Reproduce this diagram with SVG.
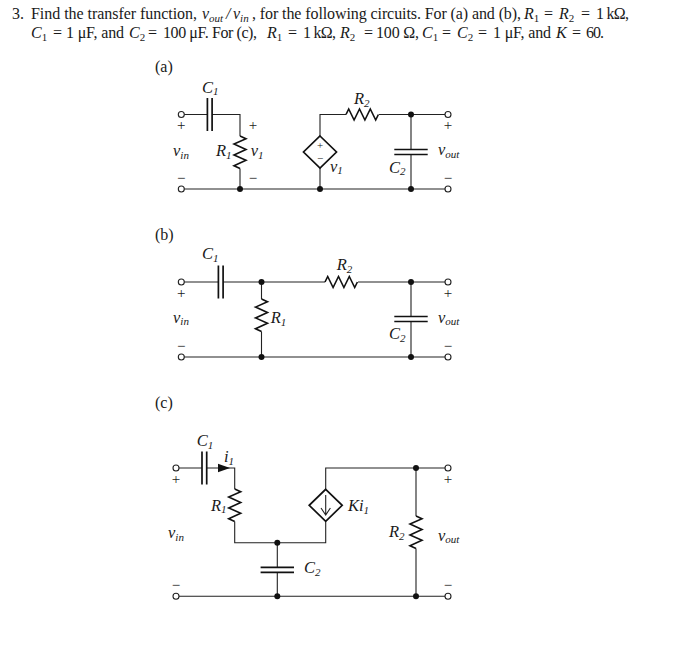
<svg xmlns="http://www.w3.org/2000/svg" width="682" height="653" viewBox="0 0 682 653">
<style>
text{font-family:"Liberation Serif","Times New Roman",serif;fill:#1a1a1a}
.t{font-size:16px}
.i{font-style:italic}
.s{font-size:11px}
.n{font-size:11px;font-style:normal}
.l{font-size:16.5px;font-style:italic}
.ls{font-size:11px;font-style:italic}
.g{font-size:15px;text-anchor:middle}
.h{font-size:11px;text-anchor:middle}
.w{fill:none;stroke:#222;stroke-width:1.1}
.p{fill:none;stroke:#111;stroke-width:1.7}
.z{fill:none;stroke:#111;stroke-width:1.6;stroke-linejoin:miter}
.d{fill:#fff;stroke:#111;stroke-width:1.7}
.o{fill:#fff;stroke:#222;stroke-width:1.1}
.j{fill:#111}
</style>
<defs>
<path id="rv" class="z" d="M0 0l6 2.7-12 5.4 12 5.4-12 5.4 12 5.4-12 5.4 6 2.7"/>
<path id="rh" class="z" d="M0 0l2.7-5.5 5.4 11 5.4-11 5.4 11 5.4-11 5.4 11 2.7-5.5"/>
<path id="capv" class="p" d="M0-16.5v33M4.7-16.5v33"/>
<path id="caph" class="p" d="M-16.7 0h33.4M-16.7 5h33.4"/>
<path id="dia" class="d" d="M0-16L16.5 0 0 16-16.5 0Z"/>
<circle id="term" class="o" r="3"/>
<circle id="dot" class="j" r="3"/>
</defs>
<g id="problem-text">
<text class="t" x="12" y="19">3.</text>
<text class="t" x="31" y="19" textLength="166">Find the transfer function,</text>
<text class="t i" x="202" y="19">v<tspan class="s" dy="2.5">out</tspan></text>
<text class="t i" x="226" y="19">/</text>
<text class="t i" x="233" y="19">v<tspan class="s" dy="2.5">in</tspan></text>
<text class="t" x="252" y="19" textLength="269">, for the following circuits. For (a) and (b),</text>
<text class="t i" x="524" y="19">R<tspan class="n" dy="2.5">1</tspan></text>
<text class="t" x="544" y="19">=</text>
<text class="t i" x="559" y="19">R<tspan class="n" dy="2.5">2</tspan></text>
<text class="t" x="581" y="19">=</text>
<text class="t" x="596" y="19" textLength="33">1 kΩ,</text>
<text class="t i" x="31" y="38">C<tspan class="n" dy="2.5">1</tspan></text>
<text class="t" x="53" y="38">=</text>
<text class="t" x="66" y="38" textLength="58">1 μF, and</text>
<text class="t i" x="129" y="38">C<tspan class="n" dy="2.5">2</tspan></text>
<text class="t" x="148" y="38">=</text>
<text class="t" x="163" y="38" textLength="94">100 μF. For (c),</text>
<text class="t i" x="267" y="38">R<tspan class="n" dy="2.5">1</tspan></text>
<text class="t" x="288" y="38">=</text>
<text class="t" x="303" y="38" textLength="33">1 kΩ,</text>
<text class="t i" x="340" y="38">R<tspan class="n" dy="2.5">2</tspan></text>
<text class="t" x="364" y="38">=</text>
<text class="t" x="376" y="38" textLength="43">100 Ω,</text>
<text class="t i" x="422" y="38">C<tspan class="n" dy="2.5">1</tspan></text>
<text class="t" x="442" y="38">=</text>
<text class="t i" x="457" y="38">C<tspan class="n" dy="2.5">2</tspan></text>
<text class="t" x="478" y="38">=</text>
<text class="t" x="493" y="38" textLength="58">1 μF, and</text>
<text class="t i" x="556" y="38">K</text>
<text class="t" x="572" y="38">=</text>
<text class="t" x="586" y="38" textLength="18">60.</text>
<text class="t" x="155" y="72">(a)</text>
<text class="t" x="155" y="240">(b)</text>
<text class="t" x="155" y="408">(c)</text>
</g>
<g id="connectors">
<path class="w" d="M184 114.500H207.500M212 114.500H240V136M240 168.500V189M184 189H320M320 168V189M320 136V114.500H346M379 114.500H445M411 114.500V149.500M411 154.500V189M320 189H445"/>
<path class="w" d="M184 282H218.500M223 282H325M358 282H445M261.500 282V299M261.500 331.500V357M184 357H445M411 282V316.500M411 321.500V357"/>
<path class="w" d="M179 468H202M206.700 468H234.700V489M234.700 521.500V542.700H325.700V521.500M325.700 489.500V468H445M416 468V516M416 548.500V596M179 596.300H445M277.300 542.700V567.300M277.300 572.300V596.300"/>
</g>
<g id="circuit-a">
<g id="a-vin-plus"><use href="#term" x="181.300" y="114.500"/><text class="g" x="181.300" y="130">+</text></g>
<g id="a-vin-minus"><use href="#term" x="181.300" y="189"/><text class="g" x="181.300" y="183">−</text></g>
<text class="l" x="173" y="156">v<tspan class="ls" dy="2.500">in</tspan></text>
<g id="a-C1"><use href="#capv" x="207.400" y="114.500"/><text class="l" x="202" y="92.700">C<tspan class="ls" dy="2.500">1</tspan></text></g>
<g id="a-R1"><use href="#rv" x="240" y="136"/><text class="l" x="216" y="156">R<tspan class="ls" dy="2.500">1</tspan></text></g>
<g id="a-v1"><text class="g" x="253" y="130">+</text><text class="l" x="250.700" y="156">v<tspan class="ls" dy="2.500">1</tspan></text><text class="g" x="253" y="183">−</text></g>
<g id="a-dep"><use href="#dia" x="320" y="152"/><text class="h" x="320" y="149">+</text><text class="h" x="320" y="162">−</text><text class="l" x="330" y="171.700">v<tspan class="ls" dy="2.500">1</tspan></text></g>
<g id="a-R2"><use href="#rh" x="346" y="114.500"/><text class="l" x="354" y="104">R<tspan class="ls" dy="2.500">2</tspan></text></g>
<g id="a-C2"><use href="#caph" x="411" y="149.500"/><text class="l" x="389" y="172.700">C<tspan class="ls" dy="2.500">2</tspan></text></g>
<g id="a-nodes"><use href="#dot" x="240" y="189"/><use href="#dot" x="320" y="189"/><use href="#dot" x="411" y="189"/><use href="#dot" x="411" y="114.500"/></g>
<g id="a-vout-plus"><use href="#term" x="448" y="114.500"/><text class="g" x="448" y="130">+</text></g>
<g id="a-vout-minus"><use href="#term" x="448" y="189"/><text class="g" x="448" y="183">−</text></g>
<text class="l" x="438" y="155">v<tspan class="ls" dy="2.500">out</tspan></text>
</g>
<g id="circuit-b">
<g id="b-vin-plus"><use href="#term" x="181.300" y="282"/><text class="g" x="181.300" y="298">+</text></g>
<g id="b-vin-minus"><use href="#term" x="181.300" y="357"/><text class="g" x="181.300" y="351">−</text></g>
<text class="l" x="173" y="322.700">v<tspan class="ls" dy="2.500">in</tspan></text>
<g id="b-C1"><use href="#capv" x="218.400" y="282"/><text class="l" x="202" y="259">C<tspan class="ls" dy="2.500">1</tspan></text></g>
<g id="b-R1"><use href="#rv" x="261.500" y="299"/><text class="l" x="270.700" y="323">R<tspan class="ls" dy="2.500">1</tspan></text></g>
<g id="b-R2"><use href="#rh" x="325" y="282"/><text class="l" x="336.700" y="270">R<tspan class="ls" dy="2.500">2</tspan></text></g>
<g id="b-C2"><use href="#caph" x="411" y="316.500"/><text class="l" x="389" y="339">C<tspan class="ls" dy="2.500">2</tspan></text></g>
<g id="b-nodes"><use href="#dot" x="261.500" y="282"/><use href="#dot" x="261.500" y="357"/><use href="#dot" x="411" y="282"/><use href="#dot" x="411" y="357"/></g>
<g id="b-vout-plus"><use href="#term" x="448" y="282"/><text class="g" x="448" y="298">+</text></g>
<g id="b-vout-minus"><use href="#term" x="448" y="357"/><text class="g" x="448" y="351">−</text></g>
<text class="l" x="438" y="322.700">v<tspan class="ls" dy="2.500">out</tspan></text>
</g>
<g id="circuit-c">
<g id="c-vin-plus"><use href="#term" x="176" y="468"/><text class="g" x="176" y="484">+</text></g>
<g id="c-vin-minus"><use href="#term" x="176" y="596.300"/><text class="g" x="176" y="590">−</text></g>
<text class="l" x="168" y="538.300">v<tspan class="ls" dy="2.500">in</tspan></text>
<g id="c-C1"><use href="#capv" x="202" y="468"/><text class="l" x="196.700" y="446">C<tspan class="ls" dy="2.500">1</tspan></text></g>
<g id="c-i1"><path class="j" d="M218 463.700L230 468 218 472.300Z"/><text class="l" x="224" y="462">i<tspan class="ls" dy="2.500">1</tspan></text></g>
<g id="c-R1"><use href="#rv" x="234.700" y="489"/><text class="l" x="211" y="510.700">R<tspan class="ls" dy="2.500">1</tspan></text></g>
<g id="c-C2"><use href="#caph" x="277.300" y="567.300"/><text class="l" x="304" y="573.300">C<tspan class="ls" dy="2.500">2</tspan></text></g>
<g id="c-dep"><use href="#dia" x="325.700" y="505.300"/><path class="w" d="M325.700 495V515M321 508L325.700 515 330.400 508"/><text class="l" x="348" y="511">Ki<tspan class="ls" dy="2.500">1</tspan></text></g>
<g id="c-R2"><use href="#rv" x="416" y="516"/><text class="l" x="389" y="537.300">R<tspan class="ls" dy="2.500">2</tspan></text></g>
<g id="c-nodes"><use href="#dot" x="277.300" y="542.700"/><use href="#dot" x="277.300" y="596.300"/><use href="#dot" x="416" y="468"/><use href="#dot" x="416" y="596.300"/></g>
<g id="c-vout-plus"><use href="#term" x="448" y="468"/><text class="g" x="448" y="484">+</text></g>
<g id="c-vout-minus"><use href="#term" x="448" y="596.300"/><text class="g" x="448" y="590">−</text></g>
<text class="l" x="438" y="540.700">v<tspan class="ls" dy="2.500">out</tspan></text>
</g>
</svg>
